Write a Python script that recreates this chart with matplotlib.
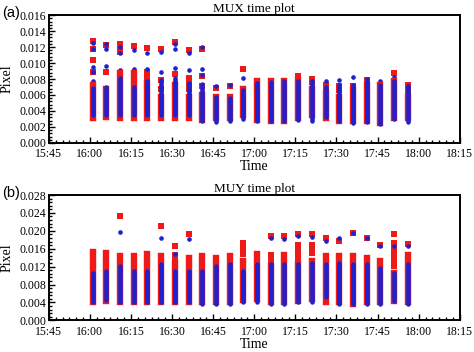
import matplotlib
matplotlib.use("Agg")
import matplotlib.pyplot as plt
from matplotlib.ticker import MultipleLocator, FormatStrFormatter

# sample times (one column of readings every 5 minutes)
times = ["16:01", "16:06", "16:11", "16:16", "16:21", "16:26", "16:31", "16:36",
         "16:41", "16:46", "16:51", "16:56", "17:01", "17:06", "17:11", "17:16",
         "17:21", "17:26", "17:31", "17:36", "17:41", "17:46", "17:51", "17:56"]
tick_labels = ["15:45", "16:00", "16:15", "16:30", "16:45", "17:00",
               "17:15", "17:30", "17:45", "18:00", "18:15"]

# MUX: dense part of each column (low/high) and separate points above it
mux_red_lo = [0.0031, 0.0033, 0.0031, 0.0031, 0.0031, 0.0031, 0.0031, 0.0031,
              0.0029, 0.0031, 0.0031, 0.0035, 0.0029, 0.0028, 0.0027, 0.0031,
              0.0035, 0.0031, 0.0027, 0.0027, 0.0027, 0.0025, 0.0031, 0.0031]
mux_red_hi = [0.0072, 0.0068, 0.0087, 0.0087, 0.0075, 0.0058, 0.0072, 0.0058,
              0.0060, 0.0058, 0.0058, 0.0068, 0.0077, 0.0078, 0.0077, 0.0079,
              0.0068, 0.0062, 0.0058, 0.0066, 0.0072, 0.0072, 0.0077, 0.0058]
mux_red_pts = [[0.0128, 0.0117, 0.0104, 0.0089], [0.0123, 0.0089],
               [0.0124, 0.0118, 0.0114], [0.0121],
               [0.0119, 0.0089, 0.0083], [0.0117, 0.0079, 0.0068],
               [0.0126, 0.0086], [0.0116, 0.0081, 0.0075, 0.0068],
               [0.0117, 0.0084, 0.0071], [0.0069], [0.0071], [0.0093],
               [], [], [], [0.0084], [0.0080, 0.0076], [0.0072, 0.0067],
               [0.0071, 0.0066], [0.0071], [0.0079], [], [0.0087],
               [0.0072, 0.0068, 0.0062]]
mux_blue_lo = [0.0035, 0.0035, 0.0035, 0.0035, 0.0035, 0.0035, 0.0035, 0.0035,
               0.0027, 0.0026, 0.0027, 0.0030, 0.0028, 0.0027, 0.0028, 0.0029,
               0.0028, 0.0033, 0.0027, 0.0025, 0.0026, 0.0024, 0.0030, 0.0026]
mux_blue_hi = [0.0069, 0.0070, 0.0081, 0.0070, 0.0077, 0.0079, 0.0081, 0.0075,
               0.0074, 0.0058, 0.0056, 0.0066, 0.0075, 0.0076, 0.0077, 0.0077,
               0.0075, 0.0070, 0.0073, 0.0073, 0.0076, 0.0073, 0.0077, 0.0070]
mux_blue_pts = [[0.0125, 0.0117, 0.0095, 0.0089, 0.0078], [0.0124, 0.0118, 0.0096],
                [0.0120, 0.0113, 0.0091], [0.0116, 0.0093, 0.0082],
                [0.0113, 0.0093], [0.0114, 0.0089], [0.0124, 0.0117, 0.0094],
                [0.0112, 0.0091], [0.0120, 0.0093, 0.0085], [0.0071], [0.0072],
                [0.0081], [0.0077], [0.0079], [0.0078], [0.0080], [0.0077],
                [0.0077], [0.0079], [0.0082], [0.0080], [0.0077], [0.0083],
                [0.0071]]

# MUY
muy_red_lo = [0.0041, 0.0043, 0.0041, 0.0041, 0.0041, 0.0041, 0.0041, 0.0041,
              0.0041, 0.0041, 0.0041, 0.0046, 0.0048, 0.0041, 0.0041, 0.0044,
              0.0048, 0.0041, 0.0041, 0.0037, 0.0041, 0.0041, 0.0044, 0.0041]
muy_red_hi = [0.0152, 0.0150, 0.0143, 0.0144, 0.0148, 0.0144, 0.0125, 0.0139,
              0.0144, 0.0139, 0.0144, 0.0132, 0.0149, 0.0121, 0.0147, 0.0125,
              0.0132, 0.0143, 0.0143, 0.0143, 0.0139, 0.0132, 0.0106, 0.0147]
muy_red_pts = [[], [], [0.0233], [], [], [0.0211],
               [0.0166, 0.0147, 0.0136], [0.0192], [], [], [],
               [0.0172, 0.0160, 0.0149], [], [0.0188, 0.0147, 0.0136, 0.0128],
               [0.0188], [0.0192, 0.0168, 0.0160, 0.0150, 0.0140],
               [0.0192, 0.0168, 0.0160, 0.0150], [0.0185], [0.0178], [0.0196],
               [0.0184], [0.0168],
               [0.0192, 0.0172, 0.0160, 0.0150, 0.0140, 0.0130, 0.0121],
               [0.0171]]
muy_blue_lo = [0.0041, 0.0046, 0.0041, 0.0041, 0.0041, 0.0041, 0.0041, 0.0041,
               0.0037, 0.0036, 0.0036, 0.0041, 0.0041, 0.0037, 0.0037, 0.0041,
               0.0041, 0.0052, 0.0037, 0.0036, 0.0037, 0.0036, 0.0044, 0.0037]
muy_blue_hi = [0.0106, 0.0110, 0.0121, 0.0110, 0.0110, 0.0125, 0.0110, 0.0110,
               0.0110, 0.0121, 0.0125, 0.0110, 0.0125, 0.0125, 0.0125, 0.0125,
               0.0128, 0.0125, 0.0128, 0.0125, 0.0125, 0.0117, 0.0106, 0.0125]
muy_blue_pts = [[0.0143, 0.0125], [0.0144, 0.0125], [0.0198, 0.0136], [0.0125],
                [0.0125], [0.0185], [0.0149, 0.0123], [0.0181, 0.0123], [], [],
                [], [0.0128], [], [0.0185], [0.0181], [0.0188], [0.0187],
                [0.0178], [0.0185], [0.0194], [0.0183], [0.0165], [0.0167],
                [0.0167]]


def to_min(t):
    h, m = t.split(":")
    return int(h) * 60 + int(m)


RED = "#ee1a1a"
BLUE = "#2020cc"
serif = "Liberation Serif"


def panel(ax, title, red_lo, red_hi, red_pts, blue_lo, blue_hi, blue_pts,
          ymax, ystep, yminor):
    x = [to_min(t) for t in times]
    ax.vlines(x, red_lo, red_hi, color=RED, linewidth=4.6, capstyle="projecting")
    for xi, pts in zip(x, red_pts):
        ax.scatter([xi] * len(pts), pts, marker="s", s=22, color=RED, lw=0)
    ax.vlines(x, blue_lo, blue_hi, color=BLUE, linewidth=3.3, capstyle="round")
    for xi, pts in zip(x, blue_pts):
        ax.scatter([xi] * len(pts), pts, marker="o", s=11, color=BLUE, lw=0)

    ticks = [to_min(t) for t in tick_labels]
    ax.set_xlim(ticks[0], ticks[-1])
    ax.set_xticks(ticks)
    ax.set_xticklabels(tick_labels, fontfamily=serif, fontsize=8.5)
    ax.xaxis.set_minor_locator(MultipleLocator(2.5))
    ax.set_ylim(0, ymax)
    ax.yaxis.set_major_locator(MultipleLocator(ystep))
    ax.yaxis.set_minor_locator(MultipleLocator(yminor))
    ax.yaxis.set_major_formatter(FormatStrFormatter("%.3f"))
    for lab in ax.get_yticklabels():
        lab.set_fontfamily(serif)
        lab.set_fontsize(8.5)
    ax.tick_params(which="both", direction="in", top=False, right=False, width=1)
    ax.tick_params(which="major", length=4.5)
    ax.tick_params(axis="y", which="major", pad=2)
    ax.tick_params(axis="x", which="major", pad=4)
    ax.tick_params(which="minor", length=2.5)
    for sp in ax.spines.values():
        sp.set_linewidth(1.4)
    ax.set_title(title, fontfamily=serif, fontsize=9.5, pad=2)
    ax.set_ylabel("Pixel", fontfamily=serif, fontsize=10, labelpad=4)
    ax.set_xlabel("Time", fontfamily=serif, fontsize=10, labelpad=0)


fig = plt.figure(figsize=(4.74, 3.52), dpi=100)
ax1 = fig.add_axes([0.103, 0.594, 0.867, 0.363])
ax2 = fig.add_axes([0.103, 0.09, 0.867, 0.356])

panel(ax1, "MUX time plot", mux_red_lo, mux_red_hi, mux_red_pts,
      mux_blue_lo, mux_blue_hi, mux_blue_pts, 0.016, 0.002, 0.0004)
panel(ax2, "MUY time plot", muy_red_lo, muy_red_hi, muy_red_pts,
      muy_blue_lo, muy_blue_hi, muy_blue_pts, 0.028, 0.004, 0.0008)

fig.text(0.004, 0.962, "(a)", fontfamily="Liberation Sans", fontsize=10.5, va="center")
fig.text(0.004, 0.452, "(b)", fontfamily="Liberation Sans", fontsize=10.5, va="center")

fig.savefig("out.png", dpi=100)
